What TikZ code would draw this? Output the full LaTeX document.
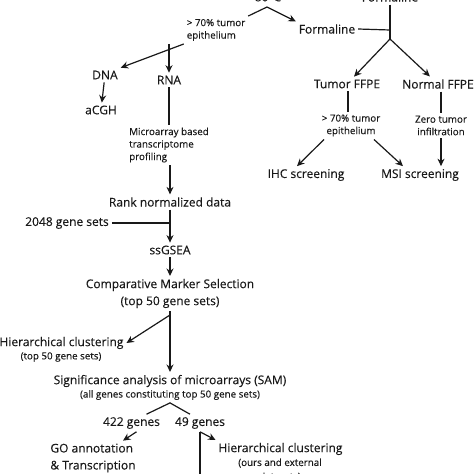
\documentclass[tikz,border=0pt]{standalone}
\usepackage{fontspec}
\setmainfont{Open Sans}[FakeBold=0.25]
\usetikzlibrary{arrows.meta}
\begin{document}
\begin{tikzpicture}[x=1pt,y=-1pt,
  big/.style={font=\fontsize{12}{17}\selectfont, inner sep=0pt, outer sep=3pt, align=center, text=black!90},
  small/.style={font=\fontsize{9.8}{12.5}\selectfont, inner sep=0pt, outer sep=3pt, text=black!90},
  arr/.style={-{Stealth[length=7.5pt,width=7pt]}, line width=1.2pt, draw=black!90},
  ln/.style={line width=1.2pt, draw=black!90}]
\useasboundingbox (0,0) rectangle (474,474);
% top
\node[big] (n80) at (266,-3) {-80°C};
\node[big] (formtop) at (390,-3) {Formaline};
\node[small, align=left] (lbl1) at (216,30) {> 70\% tumor\\epithelium};
\node[big] (form1) at (327,29) {Formaline};
\node[big] (dna) at (105,75) {DNA};
\node[big] (acgh) at (101,110) {aCGH};
\node[big] (rna) at (169,80) {RNA};
\node[small, align=left] (micro) at (169,145) {Microarray based\\transcriptome\\profiling};
\node[big] (rank) at (170,202) {Rank normalized data};
\node[big] (gs) at (67,223) {2048 gene sets};
\node[big] (ssgsea) at (170,250) {ssGSEA};
\node[big] (cms) at (170,293.5) {Comparative Marker Selection\\(top 50 gene sets)};
\node[big] (hc1) at (61.5,343) {Hierarchical clustering};
\node[small] (hc1s) at (61,357) {(top 50 gene sets)};
\node[big] (sam) at (170,381) {Significance analysis of microarrays (SAM)};
\node[small] (sams) at (170,395) {(all genes constituting top 50 gene sets)};
\node[big] (g422) at (131.5,423) {422 genes};
\node[big] (g49) at (200,423) {49 genes};
\node[big, align=left] (go) at (93,458) {GO annotation\\\& Transcription};
\node[big] (hc2) at (280.5,449) {Hierarchical clustering};
\node[small, align=center, font=\fontsize{9.8}{14}\selectfont] (hc2s) at (280,470) {(ours and external\\datasets)};
% right
\node[big] (tffpe) at (347,84) {Tumor FFPE};
\node[big] (nffpe) at (438,84) {Normal FFPE};
\node[small, align=center] (lbl2) at (351,125.5) {> 70\% tumor\\epithelium};
\node[small, align=center] (zt) at (441,125.5) {Zero tumor\\infiltration};
\node[big] (ihc) at (306,175) {IHC screening};
\node[big] (msi) at (420,175) {MSI screening};
% junctions
\coordinate (a80) at (267,7);
\coordinate (fj) at (390,30);
\coordinate (fork) at (390,39);
\coordinate (j50) at (170,315);
\coordinate (bot) at (200,480);
% edges top-left
\draw[ln] (lbl1.north east) -- (a80);
\draw[arr] (a80) -- (form1.north west);
\draw[arr] (lbl1.south west) -- (dna.north east);
\draw[arr] (lbl1.south west -| rna) -- (rna.north);
\draw[arr] (dna) -- (acgh);
\draw[ln] (rna) -- (micro.north -| rna);
\draw[arr] (micro.south -| rank) -- (rank);
\draw[ln] (gs.east) -- (gs.east -| rank);
\draw[arr] (rank) -- (ssgsea);
\draw[arr] (ssgsea) -- (cms);
\draw[arr] (cms.south) -- (sam.north);
\draw[arr] (j50) -- (hc1.east);
\draw[ln] ([xshift=15pt]g422.north) -- (sams.south) -- ([xshift=-10pt]g49.north);
\draw[arr] ([xshift=5pt]g422.south) -- ([xshift=30pt]go.north);
\draw[ln] (g49.south) -- (bot);
\draw[arr] (g49.south) -- (hc2.north west);
% edges right
\draw[ln] (formtop) -- (fork);
\draw[ln] (form1.east) -- (fj);
\draw[arr] (fork) -- (tffpe);
\draw[arr] (fork) -- (nffpe);
\draw[ln] (tffpe.south -| 348,0) -- (lbl2.north -| 348,0);
\draw[ln] (nffpe.south -| zt) -- (zt.north);
\draw[arr] (zt.south) -- (zt.south |- msi.north);
\draw[arr] ([xshift=-27pt]lbl2.south) -- ([xshift=-9pt]ihc.north);
\draw[arr] ([xshift=23pt]lbl2.south) -- ([xshift=-17pt]msi.north);
\end{tikzpicture}
\end{document}
